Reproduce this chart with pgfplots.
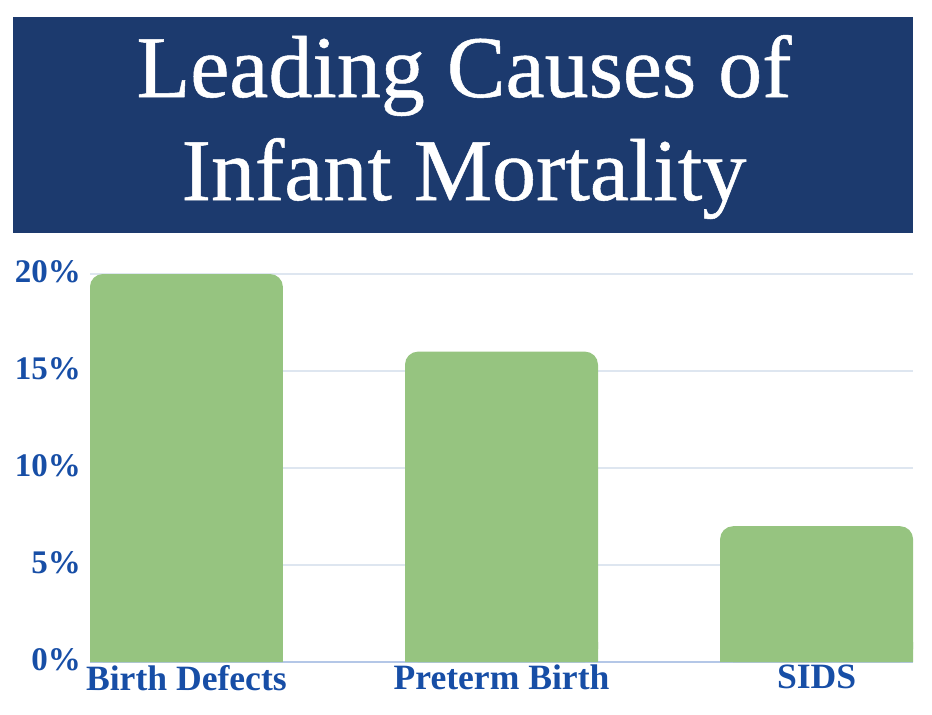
\documentclass[border=0pt]{standalone}
\usepackage{pgfplots}
\pgfplotsset{compat=1.18}
\usepackage{fontspec}
\setmainfont{Liberation Serif}
\newfontfamily\titlefont[FakeBold=0.6]{Liberation Serif}
\definecolor{banner}{RGB}{28,58,110}
\definecolor{barg}{RGB}{150,196,128}
\definecolor{lab}{RGB}{23,78,166}
\definecolor{gridc}{RGB}{222,230,240}
\definecolor{axc}{RGB}{180,199,231}
\pgfplotstableread{
x y
0 20
1 16
2 7
}\datatable
\begin{document}
\begin{tikzpicture}[x=1pt,y=1pt]
\path (0,0) rectangle (466,357);
\fill[banner] (6.5,240.5) rectangle (456.5,348.5);
\node[anchor=base, text=white, font=\titlefont\fontsize{44}{48}\selectfont, inner sep=0pt] at (232,308.5) {Leading Causes of};
\node[anchor=base, text=white, font=\titlefont\fontsize{44}{48}\selectfont, inner sep=0pt] at (232,257) {Infant Mortality};
\begin{axis}[
  at={(45pt,26pt)}, anchor=south west, scale only axis,
  width=411.5pt, height=194pt,
  ymin=0, ymax=20, xmin=-0.306, xmax=2.306,
  ytick={0,5,10,15,20},
  yticklabel={\pgfmathprintnumber{\tick}\%},
  xtick=data, xticklabels={Birth Defects, Preterm Birth, SIDS},
  major tick length=0pt,
  ymajorgrids, grid style={gridc, line width=0.6pt},
  separate axis lines,
  axis x line*=bottom, axis y line*=left,
  y axis line style={draw=none},
  x axis line style={axc, line width=0.8pt},
  /pgf/number format/assume math mode=true,
  yticklabel style={font=\bfseries\fontsize{16.5}{17}\selectfont, text=lab, xshift=-1pt, yshift=1pt},
  xticklabel style={font=\bfseries\fontsize{17.8}{18}\selectfont, text=lab, yshift=2pt},
  clip=true,
]
\addplot[ybar, bar shift=0pt, bar width=96.5pt, fill=barg, draw=none, rounded corners=6.5pt] table[x=x,y=y] {\datatable};
\addplot[ybar, bar shift=0pt, bar width=96.5pt, fill=barg, draw=none, sharp corners,
  execute at begin plot visualization={%
    \pgfpathrectanglecorners{\pgfplotspointaxisxy{-1}{0}}{\pgfplotspointaxisxy{3}{1}}%
    \pgfusepath{clip}}] table[x=x,y=y] {\datatable};
\end{axis}
\end{tikzpicture}
\end{document}
